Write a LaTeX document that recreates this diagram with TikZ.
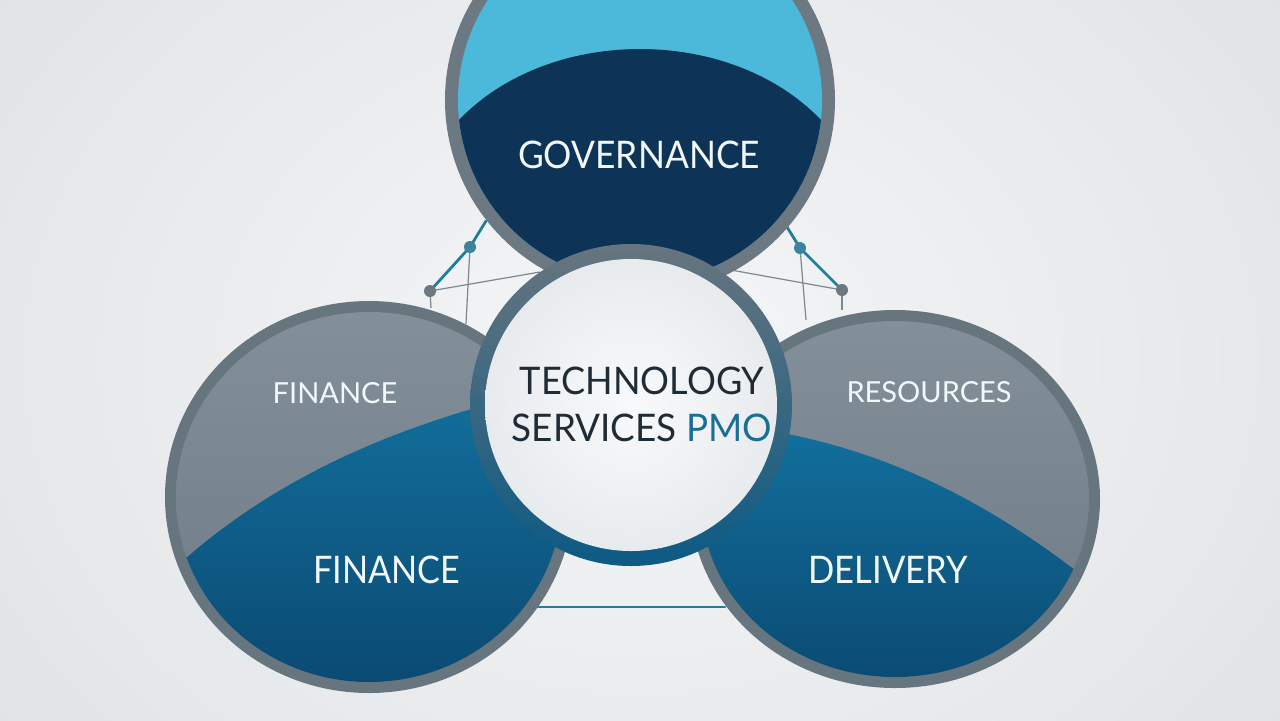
\documentclass[tikz,border=0pt]{standalone}
\usepackage{fontspec}
\usepackage{graphicx}
\setmainfont{Lato}
\definecolor{bglight}{HTML}{F5F6F7}
\definecolor{bgdark}{HTML}{E0E3E6}
\definecolor{ringgray}{HTML}{67757F}
\definecolor{topring}{HTML}{6D7982}
\definecolor{skyblue}{HTML}{4CB8DA}
\definecolor{navy}{HTML}{0D3357}
\definecolor{grayhi}{HTML}{84919B}
\definecolor{graylo}{HTML}{6D7A85}
\definecolor{bluehi}{HTML}{12709D}
\definecolor{bluelo}{HTML}{0A4870}
\definecolor{cring}{HTML}{0C5A84}
\definecolor{cfillin}{HTML}{F8F9FA}
\definecolor{cfillout}{HTML}{E8EBEE}
\definecolor{textdark}{HTML}{1F2B35}
\definecolor{pmo}{HTML}{1A6F96}
\definecolor{labelwhite}{HTML}{F2F7FA}
\definecolor{tealline}{HTML}{1F7E9B}
\definecolor{thingray}{HTML}{7E878E}
\definecolor{dotteal}{HTML}{3B8499}
\definecolor{dotgray}{HTML}{6C7880}
\tikzset{
  lblbig/.style={text=labelwhite, font=\fontsize{19}{22}\selectfont, inner sep=0pt},
  lblsmall/.style={text=labelwhite, font=\fontsize{14.5}{17}\selectfont, inner sep=0pt},
  ctext/.style={text=textdark, font=\fontsize{19}{22}\selectfont, inner sep=0pt},
  tealconn/.style={draw=tealline, line width=1.4pt, line cap=round},
  grayconn/.style={draw=thingray, line width=0.6pt},
  dotA/.style={fill=dotteal},
  dotB/.style={fill=dotgray}
}
\begin{document}
\begin{tikzpicture}[x=0.5pt,y=-0.5pt]
\useasboundingbox (0,0) rectangle (1280,720);
% background
\shade[inner color=bglight, outer color=bgdark] (-200,-300) rectangle (1480,1020);

% connector coordinates
\coordinate (L1) at (486,221);
\coordinate (LA) at (470,247);
\coordinate (LB) at (430,291);
\coordinate (LC) at (466,324);
\coordinate (LD) at (540,272);
\coordinate (LE) at (431,308);
\coordinate (R1) at (787,227);
\coordinate (RA) at (800,248);
\coordinate (RB) at (842,290);
\coordinate (RC) at (806,320);
\coordinate (RD) at (731,270);
\coordinate (RE) at (842,310);
\coordinate (B1) at (530,607);
\coordinate (B2) at (725,607);

% connectors
\draw[grayconn] (LA) -- (LC);
\draw[grayconn] (LB) -- (LD);
\draw[grayconn] (LB) -- (LE);
\draw[tealconn] (L1) -- (LA) -- (LB);
\draw[grayconn] (RA) -- (RC);
\draw[grayconn] (RB) -- (RD);
\draw[grayconn] (RB) -- (RE);
\draw[tealconn] (R1) -- (RA) -- (RB);
\fill[dotA] (LA) circle[radius=6];
\fill[dotB] (LB) circle[radius=6];
\fill[dotA] (RA) circle[radius=6];
\fill[dotB] (RB) circle[radius=6];
\draw[tealconn] (B1) -- (B2);

% left circle (Finance)
\fill[ringgray] (369,497) ellipse[x radius=204, y radius=196];
\begin{scope}
  \clip (369,497) ellipse[x radius=193, y radius=185];
  \shade[top color=grayhi, bottom color=graylo] (150,290) rectangle (590,700);
  \shade[top color=bluehi, bottom color=bluelo]
    (150,592) .. controls (260,480) and (400,420) .. (575,383) -- (575,700) -- (150,700) -- cycle;
\end{scope}

% right circle (Delivery)
\fill[ringgray] (895,499) ellipse[x radius=205, y radius=189];
\begin{scope}
  \clip (895,499) ellipse[x radius=194, y radius=178];
  \shade[top color=grayhi, bottom color=graylo] (680,300) rectangle (1110,700);
  \shade[top color=bluehi, bottom color=bluelo]
    (690,422) .. controls (850,430) and (980,490) .. (1110,598) -- (1110,700) -- (690,700) -- cycle;
\end{scope}

% top circle (Governance)
\fill[topring] (640,100) circle[radius=195];
\begin{scope}
  \clip (640,100) circle[radius=182];
  \fill[skyblue] (440,-100) rectangle (840,300);
  \fill[navy] (450,130) .. controls (540,22) and (740,22) .. (830,130) -- (830,300) -- (450,300) -- cycle;
\end{scope}

% center circle
\shade[top color=ringgray, bottom color=cring] (631,405) circle[radius=161];
\shade[inner color=cfillin, outer color=cfillout] (631,405) circle[radius=146];

% labels
\node[lblbig] (gov) at (639,155) {\scalebox{0.93}[1]{GOVERNANCE}};
\node[lblsmall] (finsmall) at (335,393) {FINANCE};
\node[lblbig] (finbig) at (387,570) {\scalebox{0.9}[1]{FINANCE}};
\node[lblsmall] (res) at (929,392) {RESOURCES};
\node[lblbig] (del) at (888,570) {\scalebox{0.91}[1]{DELIVERY}};
\node[ctext] (tech) at (642,381) {\scalebox{0.95}[1]{TECHNOLOGY}};
\node[ctext] (svc) at (642,428) {\scalebox{0.97}[1]{SERVICES \textcolor{pmo}{PMO}}};
\end{tikzpicture}
\end{document}
